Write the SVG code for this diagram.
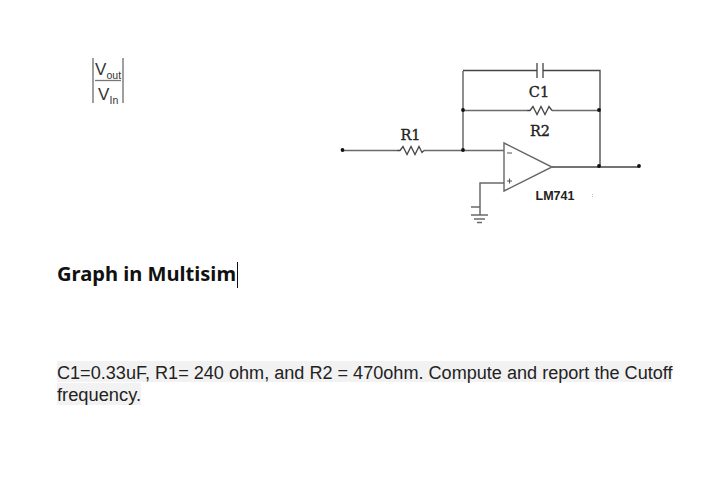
<svg xmlns="http://www.w3.org/2000/svg" width="723" height="497" viewBox="0 0 723 497">
<style>
.w{fill:none;stroke:#6a6a6a;stroke-width:1.500}
.d{fill:none;stroke:#444;stroke-width:1.300}
.dot{fill:#111}
.lab{font-family:"DejaVu Serif",serif;font-size:14.500px;font-weight:400;fill:#222;stroke:#222;stroke-width:.35}
.f{font-family:"Liberation Sans",Arial,sans-serif;fill:#333}
.t{font-family:"Liberation Sans",Arial,sans-serif;font-size:18px;fill:#222}
.hl{fill:#f2f2f2}
</style>
<rect width="723" height="497" fill="#fff"/>
<g id="formula">
<path d="M93 58V103M123 58V103" stroke="#808080" stroke-width="1.500" fill="none"/>
<path d="M95 80.500H121" stroke="#777" stroke-width="1.300" fill="none"/>
<text class="f" x="95" y="75" font-size="17">V</text><text class="f" x="106.500" y="79" font-size="10.500">out</text>
<text class="f" x="98" y="100" font-size="17">V</text><text class="f" x="109.500" y="104" font-size="10.500">In</text>
</g>
<g id="connectors">
<path class="w" d="M343 150.500H397M424 150.500H504M463 150V71M463 110.500H527M552 110.500H600"/>
<path class="d" d="M463 70.500H537M543 70.500H600V166"/>
<path class="d" d="M552 167H639"/>
<path class="w" d="M504 183H480V215"/>
</g>
<g id="junctions">
<circle class="dot" cx="342.500" cy="150" r="1.900"/><circle class="dot" cx="463" cy="150" r="1.900"/><circle class="dot" cx="463" cy="110" r="1.900"/><circle class="dot" cx="599" cy="110" r="1.900"/><circle class="dot" cx="599" cy="166" r="1.900"/><circle class="dot" cx="639" cy="166" r="1.900"/>
</g>
<g id="R1">
<path class="d" d="M397 150.500L400 150.500L403 146.500L407 154.500L411 146.500L415 154.500L419 146.500L422 152.500L424 150.500"/>
<text class="lab" x="410.500" y="140" text-anchor="middle">R1</text>
</g>
<g id="R2">
<path class="d" d="M527 110.500L530 110.500L533 106.500L537 114.500L541 106.500L545 114.500L549 106.500L552 110.500"/>
<text class="lab" x="540" y="136" text-anchor="middle">R2</text>
</g>
<g id="C1">
<path class="d" d="M537 63V78M543 63V78" stroke-width="1.500"/>
<text class="lab" x="539" y="97" text-anchor="middle">C1</text>
</g>
<g id="LM741">
<path d="M504 143V191L552 167Z" fill="#fff" stroke="#666" stroke-width="1.400"/>
<path d="M507 153H512M507 181H512M509.500 178.500V183.500" stroke="#555" stroke-width="1.100" fill="none"/>
<text x="555" y="200" text-anchor="middle" font-family="Liberation Sans,Arial,sans-serif" font-size="12.500" font-weight="700" fill="#222">LM741</text>
<path d="M592.500 194V197" stroke="#9cc7e6" stroke-width="1" stroke-dasharray="1 1"/>
</g>
<g id="ground">
<path class="w" d="M471 207H480M471 215H488M474 219H485M477 222.500H482" stroke-width="1.200"/>
</g>
<g id="heading">
<text x="57" y="281" font-family="Noto Sans,Open Sans,sans-serif" font-size="20" font-weight="700" fill="#111" textLength="179" lengthAdjust="spacingAndGlyphs">Graph in Multisim</text>
<path d="M237.500 262V288" stroke="#111" stroke-width="1"/>
</g>
<g id="question">
<rect class="hl" x="57" y="361" width="615" height="21"/>
<rect class="hl" x="57" y="383" width="84" height="22"/>
<text class="t" x="57" y="378.500" textLength="615.500" lengthAdjust="spacingAndGlyphs">C1=0.33uF, R1= 240 ohm, and R2 = 470ohm. Compute and report the Cutoff</text>
<text class="t" x="57" y="400.500" textLength="84" lengthAdjust="spacingAndGlyphs">frequency.</text>
</g>
</svg>
